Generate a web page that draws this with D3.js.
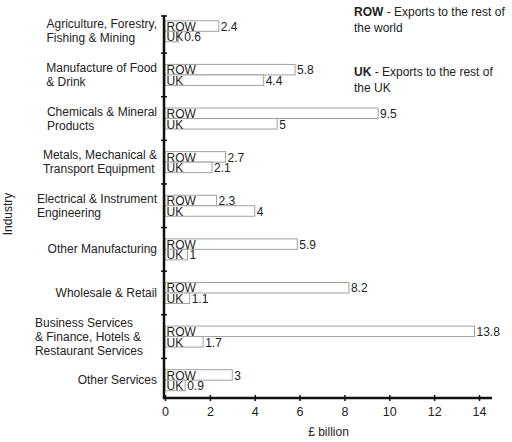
<!DOCTYPE html>
<html>
<head>
<meta charset="utf-8">
<script src="https://cdn.jsdelivr.net/npm/d3@7"></script>
<style>
  body { margin: 0; background: #fff; }
  svg { font-family: "Liberation Sans", Arial, sans-serif; }
</style>
</head>
<body>
<div id="chart"></div>
<script>
// data
const industries = [
  ["Agriculture, Forestry,", "Fishing & Mining"],
  ["Manufacture of Food", "& Drink"],
  ["Chemicals & Mineral", "Products"],
  ["Metals, Mechanical &", "Transport Equipment"],
  ["Electrical & Instrument", "Engineering"],
  ["Other Manufacturing"],
  ["Wholesale & Retail"],
  ["Business Services", "& Finance, Hotels &", "Restaurant Services"],
  ["Other Services"]
];
const rowValues = [2.4, 5.8, 9.5, 2.7, 2.3, 5.9, 8.2, 13.8, 3];
const ukValues = [0.6, 4.4, 5, 2.1, 4, 1, 1.1, 1.7, 0.9];
const xTicks = [0, 2, 4, 6, 8, 10, 12, 14];
const seriesNames = ["ROW", "UK"];

const width = 512, height = 442;
const textColor = "#222";
const axisY = 398;

const svg = d3.select("#chart").append("svg")
    .attr("width", width)
    .attr("height", height);

const x = d3.scaleLinear().domain([0, 14]).range([165, 479]);
const y = d3.scaleBand().domain(d3.range(industries.length)).range([9.5, 402]);

const barH = 10.5;
const rows = industries.map((d, i) => ({ i, row: rowValues[i], uk: ukValues[i] }));

// bars
const g = svg.selectAll(".cat")
    .data(rows)
    .enter().append("g")
    .attr("class", "cat")
    .attr("transform", d => `translate(0, ${y(d.i) + y.bandwidth() / 2})`);

seriesNames.forEach((s, k) => {
  const key = s === "ROW" ? "row" : "uk";
  const top = k === 0 ? -barH : 0;
  g.append("rect")
    .attr("x", x(0))
    .attr("y", top)
    .attr("width", d => x(d[key]) - x(0))
    .attr("height", barH)
    .attr("fill", "#fff")
    .attr("stroke", "#a0a0a0")
    .attr("stroke-width", 1);
  g.append("text")
    .attr("class", "serlabel-" + key)
    .attr("x", x(0) + 1.5)
    .attr("y", top + barH - 0.5)
    .attr("font-size", 12)
    .attr("fill", textColor)
    .text(s);
  g.append("text")
    .attr("x", function(d) {
      const lab = d3.select(this.parentNode).select(".serlabel-" + key).node();
      const labelEnd = x(0) + 1.5 + lab.getComputedTextLength() + 1;
      return Math.max(x(d[key]) + 2, labelEnd);
    })
    .attr("y", top + barH - 0.5)
    .attr("font-size", 12)
    .attr("fill", textColor)
    .text(d => d[key]);
});

// category labels: block right-aligned, lines left-aligned
const lineH = 14;
svg.selectAll(".catlabel")
    .data(industries)
    .enter().append("text")
    .attr("class", "catlabel")
    .attr("font-size", 12)
    .attr("fill", textColor)
    .each(function(lines, i) {
      const cy = y(i) + y.bandwidth() / 2;
      const y0 = cy - (lines.length - 1) * lineH / 2 + 4;
      const spans = d3.select(this).selectAll("tspan")
        .data(lines)
        .enter().append("tspan")
        .attr("x", 0)
        .attr("y", (l, j) => y0 + j * lineH)
        .text(l => l);
      const w = d3.max(spans.nodes(), n => n.getComputedTextLength());
      const right = lines.length > 2 ? 143 : 157;
      spans.attr("x", right - w);
    });

// y axis
svg.append("line")
    .attr("x1", x(0) - 1).attr("x2", x(0) - 1)
    .attr("y1", 15).attr("y2", axisY)
    .attr("stroke", "#111").attr("stroke-width", 2.5);
svg.selectAll(".ytick")
    .data(d3.range(industries.length))
    .enter().append("line")
    .attr("class", "ytick")
    .attr("x1", x(0) - 4).attr("x2", x(0) + 2)
    .attr("y1", i => i === 0 ? 16 : y(i))
    .attr("y2", i => i === 0 ? 16 : y(i))
    .attr("stroke", "#111").attr("stroke-width", 1.5);

// x axis
const xAxis = svg.append("g")
    .attr("transform", `translate(0, ${axisY})`)
    .call(d3.axisBottom(x).tickValues(xTicks).tickSize(3).tickSizeOuter(0));
xAxis.select(".domain").remove();
xAxis.selectAll(".tick line").attr("y1", -3).attr("y2", 3)
    .attr("stroke", "#111").attr("stroke-width", 1.5);
xAxis.selectAll(".tick text")
    .attr("font-family", "Liberation Sans, Arial, sans-serif")
    .attr("font-size", 12.5)
    .attr("fill", textColor)
    .attr("dy", "0.95em");
svg.append("line")
    .attr("x1", x(0) - 2.2).attr("x2", 492)
    .attr("y1", axisY).attr("y2", axisY)
    .attr("stroke", "#111").attr("stroke-width", 2.5);

// axis titles
svg.append("text")
    .attr("x", (x(0) + 492) / 2)
    .attr("y", 436)
    .attr("text-anchor", "middle")
    .attr("font-size", 12)
    .attr("fill", textColor)
    .text("£ billion");
svg.append("text")
    .attr("transform", "translate(12, 214) rotate(-90)")
    .attr("text-anchor", "middle")
    .attr("font-size", 12)
    .attr("fill", textColor)
    .text("Industry");

// legend
const legend = [
  { key: "ROW", lines: [" - Exports to the rest of", "the world"], y: 16 },
  { key: "UK", lines: [" - Exports to the rest of", "the UK"], y: 76 }
];
legend.forEach(l => {
  const t = svg.append("text").attr("font-size", 12).attr("fill", textColor);
  const first = t.append("tspan").attr("x", 354).attr("y", l.y);
  first.append("tspan").attr("font-weight", "bold").text(l.key);
  first.append("tspan").text(l.lines[0]);
  t.append("tspan").attr("x", 354).attr("y", l.y + 16).text(l.lines[1]);
});
</script>
</body>
</html>
